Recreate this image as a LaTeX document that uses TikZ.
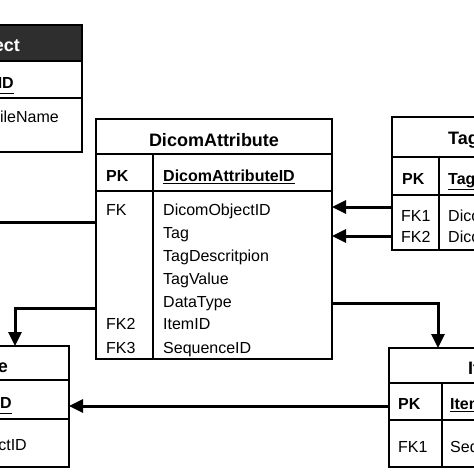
\documentclass[tikz,border=0pt]{standalone}
\usepackage{fontspec}
\setmainfont{Liberation Sans}
\usetikzlibrary{arrows.meta}
\newcommand\ulbox[1]{\vtop{\hbox{#1}\kern1.6pt\hrule height 1.4pt}}
\definecolor{hdrgray}{HTML}{2E2E2E}
\begin{document}
\begin{tikzpicture}[x=1pt,y=-1pt,
  tbl/.style={draw, line width=2.8pt, inner sep=0pt, outer sep=0pt, anchor=north west},
  sepline/.style={line width=1.6pt},
  conn/.style={line width=3pt, -{Triangle[length=14pt,width=13pt]}},
  plainconn/.style={line width=3pt},
  fld/.style={inner sep=0pt, font=\fontsize{16}{19}\selectfont},
  fldb/.style={inner sep=0pt, font=\fontsize{16}{19}\selectfont\bfseries},
  ttl/.style={inner sep=0pt, font=\fontsize{18}{21}\selectfont\bfseries},
]
\clip (0,0) rectangle (474,474);
\fill[white] (0,0) rectangle (474,474);

% ---------- DicomObject (top left, clipped) ----------
\fill[hdrgray] (-160,25) rectangle (82,61);
\node[tbl, minimum width=242pt, minimum height=127pt] (obj) at (-160,25) {};
\draw[sepline] (obj.west |- 0,61) -- (obj.east |- 0,61);
\draw[sepline] (obj.west |- 0,98) -- (obj.east |- 0,98);
\node[ttl, text=white, anchor=base east] (objT) at (20,51.5) {DicomObject};
\node[fldb, anchor=base east] (objPK) at (14,88) {\ulbox{DicomObjectID}};
\node[fld, anchor=base east] (objF1) at (59,122) {FileName};

% ---------- DicomAttribute (centre) ----------
\node[tbl, minimum width=236pt, minimum height=240pt] (attr) at (96,119) {};
\draw[sepline] (attr.west |- 0,154) -- (attr.east |- 0,154);
\draw[sepline] (attr.west |- 0,191) -- (attr.east |- 0,191);
\draw[sepline] (153,0 |- 0,154) -- (153,0 |- attr.south);
\node[ttl] (attrT) at (214,140) {DicomAttribute};
\node[fldb, anchor=base west] (attrPKl) at (106,181) {PK};
\node[fldb, anchor=base west] (attrPK) at (163,181) {\ulbox{DicomAttributeID}};
\node[fld, anchor=base west] (attrK1) at (106,215) {FK};
\node[fld, anchor=base west] (attrF1) at (163,215) {DicomObjectID};
\node[fld, anchor=base west] (attrF2) at (163,238) {Tag};
\node[fld, anchor=base west] (attrF3) at (163,261) {TagDescritpion};
\node[fld, anchor=base west] (attrF4) at (163,284) {TagValue};
\node[fld, anchor=base west] (attrF5) at (163,307) {DataType};
\node[fld, anchor=base west] (attrK2) at (106,329) {FK2};
\node[fld, anchor=base west] (attrF6) at (163,329) {ItemID};
\node[fld, anchor=base west] (attrK3) at (106,353) {FK3};
\node[fld, anchor=base west] (attrF7) at (163,353) {SequenceID};

% ---------- Tag (top right, clipped) ----------
\node[tbl, minimum width=150pt, minimum height=133pt] (tag) at (392,117) {};
\draw[sepline] (tag.west |- 0,157) -- (tag.east |- 0,157);
\draw[sepline] (tag.west |- 0,195) -- (tag.east |- 0,195);
\draw[sepline] (439,0 |- 0,157) -- (439,0 |- tag.south);
\node[ttl, anchor=base west] (tagT) at (448,144.5) {Tag};
\node[fldb, anchor=base west] (tagPKl) at (402,184) {PK};
\node[fldb, anchor=base west] (tagPK) at (448,184) {\ulbox{TagID}};
\node[fld, anchor=base west] (tagK1) at (401,221) {FK1};
\node[fld, anchor=base west] (tagF1) at (448,221) {DicomObjectID};
\node[fld, anchor=base west] (tagK2) at (401,242.5) {FK2};
\node[fld, anchor=base west] (tagF2) at (448,242.5) {DicomAttributeID};

% ---------- Sequence (bottom left, clipped) ----------
\node[tbl, minimum width=229pt, minimum height=121pt] (seq) at (-160,346) {};
\draw[sepline] (seq.west |- 0,380) -- (seq.east |- 0,380);
\draw[sepline] (seq.west |- 0,419) -- (seq.east |- 0,419);
\node[ttl, anchor=base east] (seqT) at (8,372.5) {Sequence};
\node[fldb, anchor=base east] (seqPK) at (12,408) {\ulbox{SequenceID}};
\node[fld, anchor=base east] (seqF1) at (27,450) {DicomObjectID};

% ---------- Item (bottom right, clipped) ----------
\node[tbl, minimum width=150pt, minimum height=119pt] (item) at (389,348) {};
\draw[sepline] (item.west |- 0,383) -- (item.east |- 0,383);
\draw[sepline] (item.west |- 0,420) -- (item.east |- 0,420);
\draw[sepline] (442,0 |- 0,383) -- (442,0 |- item.south);
\node[ttl, anchor=base west] (itemT) at (468,374.5) {Item};
\node[fldb, anchor=base west] (itemPKl) at (398,409) {PK};
\node[fldb, anchor=base west] (itemPK) at (450,409) {\ulbox{ItemID}};
\node[fld, anchor=base west] (itemK1) at (398,452) {FK1};
\node[fld, anchor=base west] (itemF1) at (450,452) {SequenceID};

% ---------- connectors ----------
\coordinate (objlink) at (-20,222);
\draw[plainconn] (objlink) -- (attr.west |- 0,222);
\draw[conn] (tag.west |- 0,207) -- (attr.east |- 0,207);
\draw[conn] (tag.west |- 0,236) -- (attr.east |- 0,236);
\draw[conn] (attr.west |- 0,308) -| (15,0 |- seq.north);
\draw[conn] (attr.east |- 0,303) -| (438,0 |- item.north);
\draw[conn] (item.west |- 0,406) -- (seq.east |- 0,406);
\end{tikzpicture}
\end{document}
